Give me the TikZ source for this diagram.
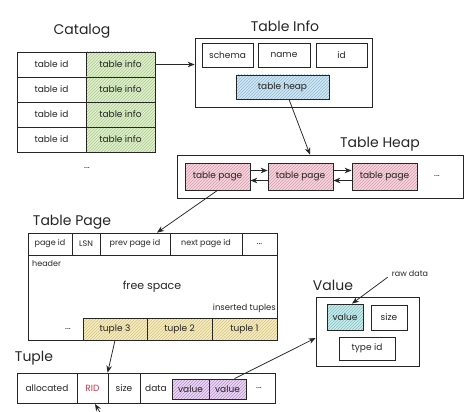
\documentclass[tikz,border=0pt]{standalone}
\usepackage{fontspec}
\setmainfont{Poppins}
\usetikzlibrary{arrows.meta,patterns}
\definecolor{ink}{HTML}{262626}
\definecolor{gfill}{HTML}{E2F0D2}\definecolor{gline}{HTML}{A8CC88}
\definecolor{bfill}{HTML}{D3E7F3}\definecolor{bline}{HTML}{8DBAD6}
\definecolor{pfill}{HTML}{F5D7DF}\definecolor{pline}{HTML}{D99AAB}
\definecolor{yfill}{HTML}{F6EDC6}\definecolor{yline}{HTML}{D6C27A}
\definecolor{vfill}{HTML}{EADAF2}\definecolor{vline}{HTML}{B98FCF}
\definecolor{cfill}{HTML}{CDEBEB}\definecolor{cline}{HTML}{7EC3C3}
\definecolor{ridred}{HTML}{C0394B}
\tikzset{
  every node/.style={text=ink},
  cell/.style={draw=ink, line width=0.75pt, inner sep=0pt, font=\fontsize{9}{10}\selectfont},
  frame/.style={draw=ink, line width=0.75pt, inner sep=0pt},
  hatch/.style 2 args={preaction={fill=#1}, preaction={pattern=north east lines, pattern color=#2}},
  title/.style={font=\fontsize{14}{16}\selectfont},
  lbl/.style={font=\fontsize{9}{10}\selectfont, inner sep=0pt},
  arr/.style={draw=ink, line width=0.75pt, -{Stealth[length=7pt,width=5.5pt]}},
}
\begin{document}
\begin{tikzpicture}[x=1pt,y=-1pt]
\useasboundingbox[fill=white] (0,0) rectangle (474,412);
% Catalog
\node[title] (cattitle) at (82,31) {Catalog};
\foreach \r/\y in {1/64.5,2/89.5,3/114.5,4/139.5}{
  \node[cell, minimum width=69, minimum height=25] (id\r) at (51.5,\y) {table id};
  \node[cell, hatch={gfill}{gline}, minimum width=69, minimum height=25] (info\r) at (120.5,\y) {table info};
}
\node[lbl] (catdots) at (87,168) {...};
% Table Info
\node[title] (tititle) at (285,26) {Table Info};
\node[frame, minimum width=177, minimum height=69] (ti) at (283.5,72.5) {};
\node[cell, minimum width=51, minimum height=24] (schema) at (227.5,55) {schema};
\node[cell, minimum width=52, minimum height=24] (name) at (284,55) {name};
\node[cell, minimum width=51, minimum height=24] (tiid) at (341.5,55) {id};
\node[cell, hatch={bfill}{bline}, minimum width=93, minimum height=24] (theap) at (282.5,87) {table heap};
\draw[arr] (info1.east) -- (ti.west |- info1.east);
% Table Heap
\node[title] (thtitle) at (380,144) {Table Heap};
\node[frame, minimum width=286, minimum height=43] (th) at (320,176.5) {};
\node[cell, hatch={pfill}{pline}, minimum width=65, minimum height=27] (p1) at (217.5,176.5) {table page};
\node[cell, hatch={pfill}{pline}, minimum width=65, minimum height=27] (p2) at (300.5,176.5) {table page};
\node[cell, hatch={pfill}{pline}, minimum width=65, minimum height=27] (p3) at (384.5,176.5) {table page};
\node[lbl] (thdots) at (437,176) {...};
\draw[arr] ([xshift=6.5pt]theap.south) -- ([xshift=-10pt]th.north);
\draw[arr] ([yshift=6pt]p1.east) -- ([yshift=6pt]p2.west);
\draw[arr] ([yshift=-4pt]p2.west) -- ([yshift=-4pt]p1.east);
\draw[arr] ([yshift=6pt]p2.east) -- ([yshift=6pt]p3.west);
\draw[arr] ([yshift=-4pt]p3.west) -- ([yshift=-4pt]p2.east);
% Table Page
\node[title] (tptitle) at (72,222) {Table Page};
\node[frame, minimum width=249, minimum height=107] (tp) at (152.5,286.5) {};
\node[cell, minimum width=44, minimum height=22, font=\fontsize{8}{9}\selectfont] (pid) at (50,244) {page id};
\node[cell, minimum width=28, minimum height=22, font=\fontsize{8}{9}\selectfont] (lsn) at (86,244) {LSN};
\node[cell, minimum width=70, minimum height=22, font=\fontsize{8}{9}\selectfont] (prev) at (135,244) {prev page id};
\node[cell, minimum width=72, minimum height=22, font=\fontsize{8}{9}\selectfont] (next) at (206,244) {next page id};
\node[cell, minimum width=35, minimum height=22] (hdots) at (259.5,244) {...};
\node[lbl, anchor=west, font=\fontsize{8}{9}\selectfont] (header) at (32,264) {header};
\node[lbl, font=\fontsize{11}{12}\selectfont] (free) at (152,287) {free space};
\node[lbl, anchor=east, font=\fontsize{8.5}{9}\selectfont] (ins) at (276,308) {inserted tuples};
\node[lbl] (tdots) at (68,329) {...};
\node[cell, hatch={yfill}{yline}, minimum width=64, minimum height=22] (t3) at (115,329) {tuple 3};
\node[cell, hatch={yfill}{yline}, minimum width=65, minimum height=22] (t2) at (179.5,329) {tuple 2};
\node[cell, hatch={yfill}{yline}, minimum width=65, minimum height=22] (t1) at (244.5,329) {tuple 1};
\draw[arr] (p1.south) -- ([xshift=22pt]prev.north);
% Tuple
\node[title] (tutitle) at (34,358) {Tuple};
\node[cell, minimum width=60, minimum height=30] (alloc) at (47,388) {allocated};
\node[cell, minimum width=31, minimum height=30, text=ridred] (rid) at (92.5,388) {RID};
\node[cell, minimum width=32, minimum height=30] (size) at (124,388) {size};
\node[cell, minimum width=135, minimum height=30] (data) at (207.5,388) {};
\node[lbl] (datalbl) at (156,388) {data};
\node[cell, hatch={vfill}{vline}, minimum width=37, minimum height=20] (v1) at (190.5,389) {value};
\node[cell, hatch={vfill}{vline}, minimum width=37, minimum height=20] (v2) at (227.5,389) {value};
\node[lbl] (vdots) at (259,388) {...};
\draw[arr] (t3.south) -- (size.north west);
\coordinate (ridsrc) at (101,414);
\draw[arr] (ridsrc) -- (95,404);
% Value
\node[title] (valtitle) at (333,285) {Value};
\node[frame, minimum width=103, minimum height=69] (vb) at (367.5,331.5) {};
\node[cell, hatch={cfill}{cline}, minimum width=36, minimum height=26] (vv) at (345,317) {value};
\node[cell, minimum width=36, minimum height=25] (vs) at (389,317.5) {size};
\node[cell, minimum width=56, minimum height=23] (tid) at (367,348.5) {type id};
\node[lbl, font=\fontsize{8}{9}\selectfont] (raw) at (410,274) {raw data};
\draw[arr] ([xshift=-4pt]raw.south west) -- ([xshift=7pt]vv.north);
\draw[arr] ([xshift=7pt]v2.north) -- ([yshift=-6.5pt]vb.west);
\end{tikzpicture}
\end{document}
